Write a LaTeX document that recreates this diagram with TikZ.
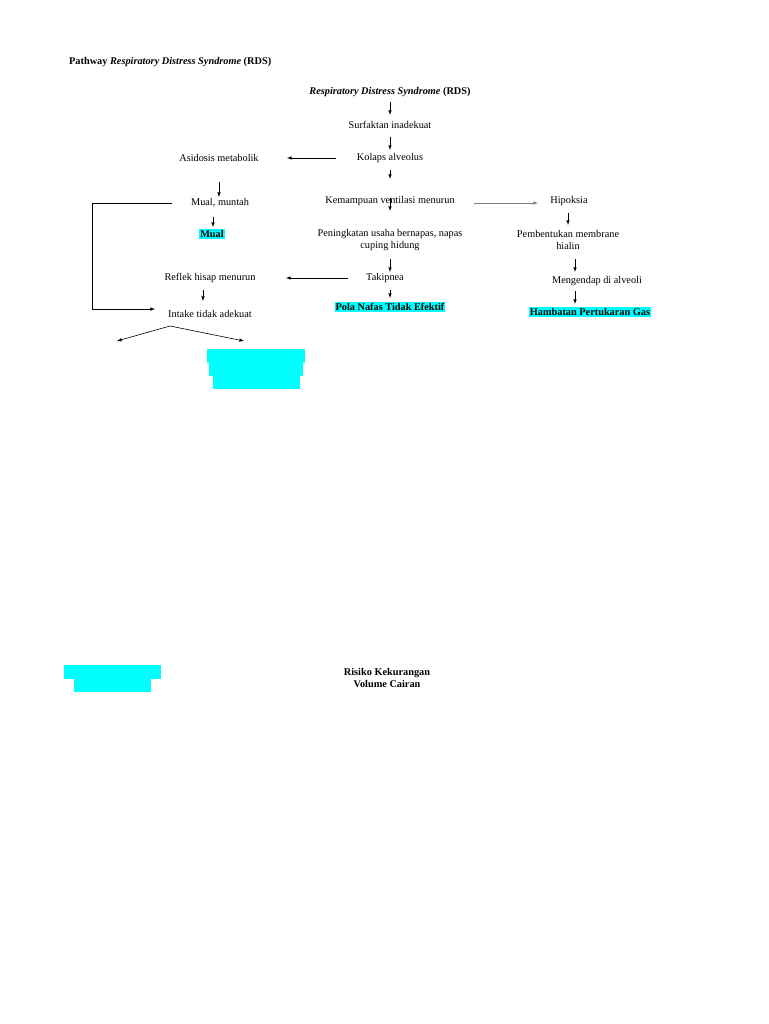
\documentclass[tikz,border=0pt]{standalone}
\usepackage{fontspec}
\setmainfont{Liberation Serif}
\definecolor{aqua}{RGB}{0,255,255}
\begin{document}
\begin{tikzpicture}[x=1pt,y=-1pt,font=\fontsize{10.3}{11.5}\selectfont,
  lbl/.style={inner sep=1pt,align=center},
  hl/.style={lbl,fill=aqua,font=\fontsize{10.3}{11.5}\selectfont\bfseries},
  arr/.style={-latex,line width=0.6pt},
  cy/.style={fill=aqua,draw=none}]
\useasboundingbox (0,0) rectangle (768,1024);
\node[anchor=west,lbl] (ttl) at (68,62) {\textbf{Pathway \textit{Respiratory Distress Syndrome} (RDS)}};
\node[lbl] (rds) at (390,92) {\textbf{\textit{Respiratory Distress Syndrome} (RDS)}};
\node[lbl] (surf) at (390,125) {Surfaktan inadekuat};
\node[lbl] (kol) at (390,158) {Kolaps alveolus};
\node[lbl] (asi) at (219,158) {Asidosis metabolik};
\node[lbl] (mm) at (220,203) {Mual, muntah};
\node[lbl] (kem) at (390,201) {Kemampuan ventilasi menurun};
\node[lbl] (hip) at (569,201) {Hipoksia};
\node[hl] (mual) at (212,234) {Mual};
\node[lbl] (pen) at (390,240) {Peningkatan usaha bernapas, napas\\cuping hidung};
\node[lbl] (pem) at (568,240) {Pembentukan membrane\\hialin};
\node[lbl] (tak) at (385,278) {Takipnea};
\node[lbl] (ref) at (210,278) {Reflek hisap menurun};
\node[lbl] (men) at (597,281) {Mengendap di alveoli};
\node[hl] (pola) at (390,307) {Pola Nafas Tidak Efektif};
\node[lbl] (int) at (210,314) {Intake tidak adekuat};
\node[hl] (hamb) at (590,312) {Hambatan Pertukaran Gas};
\node[lbl,font=\fontsize{10.3}{11.5}\selectfont\bfseries] (ris) at (387,678) {Risiko Kekurangan\\Volume Cairan};
\coordinate (l1) at (117,341); \coordinate (r1) at (244,341); \coordinate (sp) at (170,326);
\coordinate (ie) at (155,309);
\draw[arr] (390,102) -- (390,115);
\draw[arr] (390,137) -- (390,150);
\draw[arr] (336,158) -- (287,158);
\draw[arr] (390,170) -- (390,179);
\draw[arr] (219,182) -- (219,197);
\draw[line width=0.6pt] (172,203) -- (92,203) -- (92,309);
\draw[arr] (92,309) -- (ie);
\draw[arr] (390,198) -- (390,211);
\draw[arr,gray] (474,203) -- (538,203);
\draw[arr] (213,217) -- (213,227);
\draw[arr] (568,213) -- (568,225);
\draw[arr] (390,259) -- (390,272);
\draw[arr] (348,278) -- (286,278);
\draw[arr] (575,259) -- (575,272);
\draw[arr] (390,290) -- (390,298);
\draw[arr] (203,290) -- (203,301);
\draw[arr] (575,291) -- (575,304);
\draw[arr] (sp) -- (l1);
\draw[arr] (sp) -- (r1);
\fill[cy] (207,349) rectangle (305,363);
\fill[cy] (209,363) rectangle (303,376);
\fill[cy] (213,376) rectangle (300,389);
\fill[cy] (64,665) rectangle (161,679);
\fill[cy] (74,679) rectangle (151,692);
\end{tikzpicture}
\end{document}
